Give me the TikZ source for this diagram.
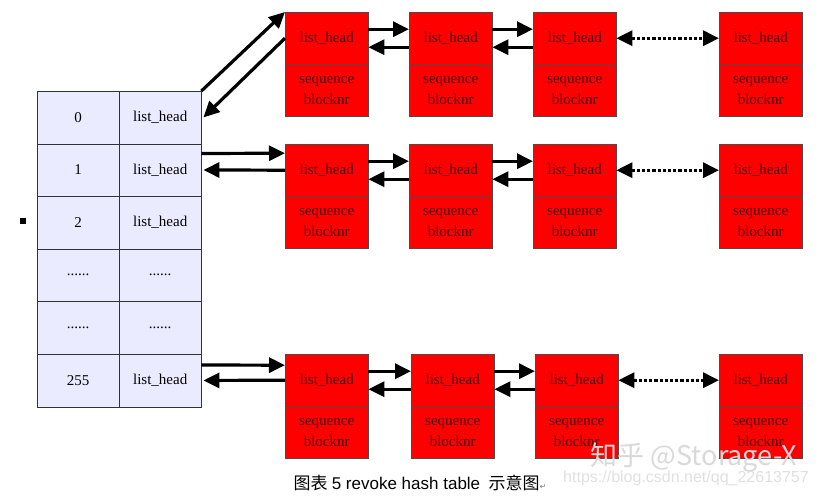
\documentclass[tikz,border=0pt]{standalone}
\usepackage{fontspec}
\setmainfont{Liberation Serif}
\newfontfamily\capfont{Liberation Sans}
\newfontfamily\cjk{Noto Sans CJK SC}
\newfontfamily\symf{DejaVu Sans}
\usetikzlibrary{arrows.meta}
\newcommand\sixdots{......}
\newcommand\lh{list\_head}
\begin{document}
\begin{tikzpicture}[x=1pt,y=-1pt,
  cell/.style={draw=black!80,fill=blue!8!white,minimum width=82pt,minimum height=52.5pt,inner sep=0pt,anchor=north west,font=\fontsize{15}{15}\selectfont},
  rtop/.style={draw=black!70,fill=red,minimum width=83pt,minimum height=52pt,inner sep=0pt,anchor=north west,text=black!70!red,font=\fontsize{15}{15}\selectfont},
  rbot/.style={rtop,align=center,font=\fontsize{15}{21}\selectfont},
  arr/.style={line width=3.2pt,-{Triangle[length=16pt,width=15pt]}},
  dots/.style={line width=3.2pt,dotted,{Triangle[length=16pt,width=15pt]}-{Triangle[length=16pt,width=15pt]}}]
\useasboundingbox (0,0) rectangle (822,496);
\fill (20,218) rectangle (26,224);
% table
\foreach \i/\y/\t/\h in {0/91/0/\lh,1/143.5/1/\lh,2/196/2/\lh,3/248.5/\sixdots/\sixdots,4/301/\sixdots/\sixdots,5/354/255/\lh}{
  \node[cell] (k\i) at (37,\y) {\t};
  \node[cell] (h\i) at (119,\y) {\h};
}
% red lists
\foreach \r/\y/\xa/\xb/\xc in {1/12/285/409/533,2/144/285/409/533,3/354/285/411/535}{
  \foreach \c/\x in {1/\xa,2/\xb,3/\xc,4/719}{
    \node[rtop] (t\r\c) at (\x,\y) {\lh};
    \node[rbot] (b\r\c) at (\x,\y+52) {sequence\\blocknr};
  }
  \foreach \a/\b in {1/2,2/3}{
    \draw[arr] ([yshift=9pt]t\r\a.east) -- ([yshift=9pt]t\r\b.west);
    \draw[arr] ([yshift=-9pt]t\r\b.west) -- ([yshift=-9pt]t\r\a.east);
  }
  \draw[dots] (t\r3.east) -- (t\r4.west);
}
% table to lists
\draw[arr] (h0.north east) -- (t11.north west);
\draw[arr] (t11.west) -- ([xshift=2pt]h0.east);
\draw[arr] ([yshift=-10pt]h1.north east) -- ([yshift=17pt]t21.west);
\draw[arr] (t21.west) -- ([xshift=2pt]h1.east);
\draw[arr] ([yshift=-11pt]h5.north east) -- ([yshift=15pt]t31.west);
\draw[arr] (t31.west) -- ([xshift=2pt]h5.east);
% caption & watermark
\node[font=\fontsize{17}{17}\selectfont] (cap) at (420,483) {{\cjk 图表}\ {\capfont 5 revoke hash table}\ \ {\cjk 示意图}{\symf\fontsize{8}{8}\selectfont\color{gray}↵}};
\node[text=black!15,font=\cjk\fontsize{27}{27}\selectfont] (wm) at (694,458) {知乎 @Storage-X};
\node[text=black!12,font=\capfont\fontsize{16}{16}\selectfont] (url) at (686,478) {https://blog.csdn.net/qq\_22613757};
\end{tikzpicture}
\end{document}
